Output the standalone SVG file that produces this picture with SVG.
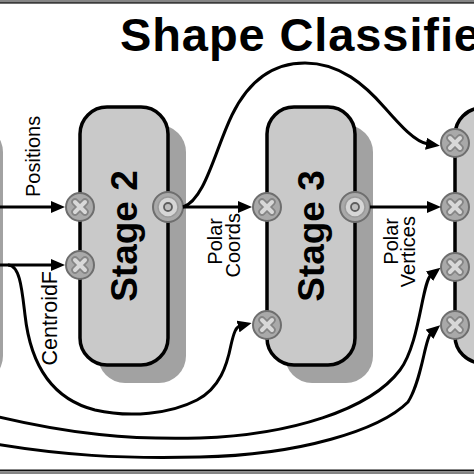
<svg xmlns="http://www.w3.org/2000/svg" xmlns:xlink="http://www.w3.org/1999/xlink" width="474" height="474" viewBox="0 0 474 474">
<style>
.box{fill:#c9c9c9;stroke:#000;stroke-width:3.5}
.shadow{fill:#a2a2a2}
.stage{font-family:"Liberation Sans",Arial,sans-serif;font-weight:bold;font-size:37px;fill:#000;text-anchor:middle}
.lbl{font-family:"Liberation Sans",Arial,sans-serif;font-size:20px;fill:#000}
.title{font-family:"Liberation Sans",Arial,sans-serif;font-weight:bold;font-size:47px;fill:#000}
.wire{fill:none;stroke:#000;stroke-width:3;marker-end:url(#arr)}
</style>
<defs>
<marker id="arr" viewBox="0 0 14 12" markerWidth="14" markerHeight="12" markerUnits="userSpaceOnUse" refX="2" refY="6" orient="auto">
<path d="M0,0 L14,6 L0,12 z" fill="#000"/>
</marker>
<g id="pin">
<circle r="14" fill="#a9a9a9" stroke="#6e6e6e" stroke-width="2"/>
<path d="M-5,-5 L5,5 M5,-5 L-5,5" stroke="#858585" stroke-width="7.5" stroke-linecap="round" fill="none"/>
<path d="M-5,-5 L5,5 M5,-5 L-5,5" stroke="#d8d8d8" stroke-width="4" stroke-linecap="round" fill="none"/>
</g>
<g id="pout">
<circle r="15" fill="#a9a9a9" stroke="#6e6e6e" stroke-width="2"/>
<circle r="10" fill="#d6d6d6" stroke="#9a9a9a" stroke-width="1.5"/>
<circle r="4" fill="#bdbdbd" stroke="#5e5e5e" stroke-width="1.8"/>
</g>
</defs>
<rect x="0" y="0" width="474" height="474" fill="#fff"/>
<rect x="0" y="0" width="474" height="2.2" fill="#858585"/>
<rect x="0" y="2.2" width="474" height="1.4" fill="#111"/>
<rect x="0" y="469.5" width="474" height="1.6" fill="#111"/>
<rect x="0" y="471.1" width="474" height="3" fill="#858585"/>
<text class="title" x="120" y="51" textLength="360" lengthAdjust="spacing">Shape Classifie</text>

<g id="stage1">
<rect class="shadow" x="-85" y="125" width="88" height="258" rx="27"/>
</g>
<g id="stage2">
<rect class="shadow" x="98" y="125" width="88" height="258" rx="27"/>
<rect class="box" x="80" y="107" width="88" height="258" rx="27"/>
<text class="stage" transform="translate(137,236) rotate(-90)">Stage 2</text>
<use xlink:href="#pin" x="80" y="207"/>
<use xlink:href="#pin" x="80" y="265"/>
<use xlink:href="#pout" x="168" y="207"/>
</g>
<g id="stage3">
<rect class="shadow" x="285" y="125" width="88" height="258" rx="27"/>
<rect class="box" x="267" y="107" width="88" height="258" rx="27"/>
<text class="stage" transform="translate(324,236) rotate(-90)">Stage 3</text>
<use xlink:href="#pin" x="267" y="207"/>
<use xlink:href="#pin" x="267" y="325"/>
<use xlink:href="#pout" x="355" y="207"/>
</g>
<g id="stage4">
<rect class="shadow" x="473" y="126" width="88" height="255" rx="27"/>
<rect class="box" x="455" y="108" width="88" height="255" rx="27"/>
<use xlink:href="#pin" x="455" y="143"/>
<use xlink:href="#pin" x="455" y="207"/>
<use xlink:href="#pin" x="455" y="267"/>
<use xlink:href="#pin" x="455" y="325"/>
</g>

<g id="connectors">
<path class="wire" d="M0,207 L53,207"/>
<path class="wire" d="M0,265 L53,265"/>
<path class="wire" d="M8,265 C20,265 22,290 25,315 C30,360 48,398 95,410 C130,418 170,414 197,400 C220,388 227,365 231,345 C234,332 236,327 240,326"/>
<path class="wire" d="M183,207 L240,207"/>
<path class="wire" d="M183,207 C205,200 215,150 232,115 C250,78 275,63 305,63 C340,63 365,85 385,108 C400,125 415,142 428,144"/>
<path class="wire" d="M370,207 L429,207"/>
<path class="wire" d="M-5,416 C70,434 130,440 200,438 C290,435 370,410 400,370 C420,343 422,282 431,275"/>
<path class="wire" d="M-5,444 C60,455 120,459 200,457 C300,455 380,430 408,402 C422,380 425,338 431,333"/>
</g>

<g id="labels">
<text class="lbl" transform="translate(40,197) rotate(-90)">Positions</text>
<text class="lbl" text-anchor="end" style="font-size:21.5px" transform="translate(57,271) rotate(-90)">CentroidF</text>
<text class="lbl" text-anchor="end" transform="translate(222,218) rotate(-90)">Polar</text>
<text class="lbl" text-anchor="end" transform="translate(240,213) rotate(-90)">Coords</text>
<text class="lbl" text-anchor="end" transform="translate(398,218) rotate(-90)">Polar</text>
<text class="lbl" text-anchor="end" transform="translate(415,216) rotate(-90)">Vertices</text>
</g>
</svg>
